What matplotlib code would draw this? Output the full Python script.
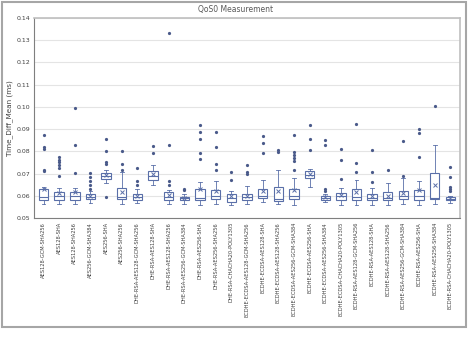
import matplotlib
matplotlib.use("Agg")
import matplotlib.pyplot as plt
from matplotlib.patches import Rectangle

cats = [
    "AES128-GCM-SHA256", "AES128-SHA", "AES128-SHA256", "AES256-GCM-SHA384",
    "AES256-SHA", "AES256-SHA256", "DHE-RSA-AES128-GCM-SHA256", "DHE-RSA-AES128-SHA",
    "DHE-RSA-AES128-SHA256", "DHE-RSA-AES256-GCM-SHA384", "DHE-RSA-AES256-SHA",
    "DHE-RSA-AES256-SHA256", "DHE-RSA-CHACHA20-POLY1305",
    "ECDHE-ECDSA-AES128-GCM-SHA256", "ECDHE-ECDSA-AES128-SHA",
    "ECDHE-ECDSA-AES128-SHA256", "ECDHE-ECDSA-AES256-GCM-SHA384",
    "ECDHE-ECDSA-AES256-SHA", "ECDHE-ECDSA-AES256-SHA384",
    "ECDHE-ECDSA-CHACHA20-POLY1305", "ECDHE-RSA-AES128-GCM-SHA256",
    "ECDHE-RSA-AES128-SHA", "ECDHE-RSA-AES128-SHA256", "ECDHE-RSA-AES256-GCM-SHA384",
    "ECDHE-RSA-AES256-SHA", "ECDHE-RSA-AES256-SHA384", "ECDHE-RSA-CHACHA20-POLY1305",
]

q1 = [.0582, .0582, .0582, .0585, .0675, .0585, .0582, .0672, .0582, .0579, .0582, .0585, .0574,
      .0579, .0592, .0578, .0585, .0679, .0582, .0582, .0582, .0579, .0579, .0585, .0582, .0585, .0582]
med = [.0596, .0598, .0600, .0595, .0690, .0595, .0593, .0690, .0595, .0588, .0590, .0598, .0590,
       .0593, .0600, .0585, .0600, .0695, .0590, .0598, .0595, .0590, .0590, .0598, .0600, .0590, .0587]
q3 = [.0630, .0618, .0618, .0607, .0702, .0633, .0607, .0712, .0615, .0594, .0630, .0627, .0607,
      .0609, .0630, .0639, .0630, .0712, .0597, .0612, .0630, .0609, .0615, .0622, .0627, .0702, .0593]
lo = [.0563, .0563, .0563, .0566, .0657, .0563, .0566, .0649, .0563, .0563, .0560, .0565, .0560,
      .0563, .0570, .0563, .0558, .0639, .0570, .0558, .0560, .0560, .0560, .0565, .0560, .0563, .0569]
hi = [.0640, .0634, .0636, .0620, .0717, .0709, .0630, .0740, .0625, .0610, .0664, .0668, .0622,
      .0645, .0672, .0717, .0679, .0722, .0610, .0635, .0672, .0637, .0657, .0680, .0666, .0828, .0600]
means = [.0630, .0612, .0618, .0597, .0692, .0617, .0597, .0697, .0605, .0592, .0630, .0620, .0597,
         .0600, .0621, .0620, .0627, .0699, .0594, .0605, .0615, .0600, .0600, .0612, .0625, .0649, .0590]
fliers = [
    [.0873, .0818, .0809, .0717, .0712],
    [.0775, .0762, .0750, .0738, .0725, .0690],
    [.0995, .0828, .0701],
    [.0701, .0686, .0667, .0649, .0630],
    [.0854, .0803, .0754, .0742, .0594],
    [.0803, .0745, .0717],
    [.0725, .0668, .0649],
    [.0826, .0794],
    [.1333, .0828, .0667, .0649],
    [.0632, .0625],
    [.0918, .0886, .0855, .0791, .0766],
    [.0888, .0818, .0744, .0717],
    [.0708, .0671],
    [.0737, .0709, .0697],
    [.0869, .0839, .0791],
    [.0805, .0798],
    [.0873, .0798, .0783, .0771, .0758, .0717],
    [.0918, .0855, .0806],
    [.0850, .0828, .0630, .0620],
    [.0810, .0761, .0675],
    [.0921, .0746, .0709],
    [.0805, .0708, .0660],
    [.0717],
    [.0848, .0690],
    [.0899, .0884, .0776],
    [.1003],
    [.0731, .0686, .0639, .0630, .0620],
]

stats = []
for i in range(len(cats)):
    stats.append(dict(label=cats[i], q1=q1[i], med=med[i], q3=q3[i],
                      whislo=lo[i], whishi=hi[i], mean=means[i], fliers=fliers[i]))

blue = "#5a6fa8"
fig = plt.figure(figsize=(4.74, 3.40), dpi=100)
ax = fig.add_axes([0.072, 0.359, 0.898, 0.588])

ax.bxp(stats, positions=range(1, len(cats) + 1), widths=0.6, showmeans=True,
       patch_artist=True,
       boxprops=dict(facecolor="white", edgecolor=blue, linewidth=0.8),
       medianprops=dict(color=blue, linewidth=0.8),
       whiskerprops=dict(color=blue, linewidth=0.6),
       capprops=dict(color=blue, linewidth=0.6),
       capwidths=0.25,
       meanprops=dict(marker="x", markeredgecolor=blue, markersize=3, markeredgewidth=0.7),
       flierprops=dict(marker="o", markerfacecolor="#4a5a8a", markeredgecolor="#4a5a8a",
                       markersize=1.3))

ax.set_xlim(0.4, len(cats) + 0.6)
ax.set_ylim(0.05, 0.14)
ax.set_yticks([0.05, 0.06, 0.07, 0.08, 0.09, 0.10, 0.11, 0.12, 0.13, 0.14])
ax.set_yticklabels([f"{v:.2f}" for v in ax.get_yticks()], fontsize=4.5, color="#404040")
ax.set_xticks(range(1, len(cats) + 1))
ax.set_xticklabels(cats, rotation=90, fontsize=3.7, color="#404040")
ax.tick_params(length=0, pad=3)
ax.grid(axis="y", color="#e4e4e4", linewidth=0.8)
ax.set_axisbelow(True)
ax.set_ylabel("Time_Diff_Mean (ms)", fontsize=5.2, color="#404040", labelpad=2)

for s in ["left", "bottom"]:
    ax.spines[s].set_color("#7f7f7f")
    ax.spines[s].set_linewidth(0.8)
for s in ["top", "right"]:
    ax.spines[s].set_color("#bfbfbf")
    ax.spines[s].set_linewidth(1.2)

fig.text(0.498, 0.972, "QoS0 Measurement", ha="center", va="center",
         fontsize=5.5, color="#595959")

fig.patches.append(Rectangle((2 / 474, 13 / 340), 464 / 474, 325 / 340,
                             transform=fig.transFigure, fill=False,
                             edgecolor="#a6a6a6", linewidth=1.5))

fig.savefig("out.png", dpi=100)
